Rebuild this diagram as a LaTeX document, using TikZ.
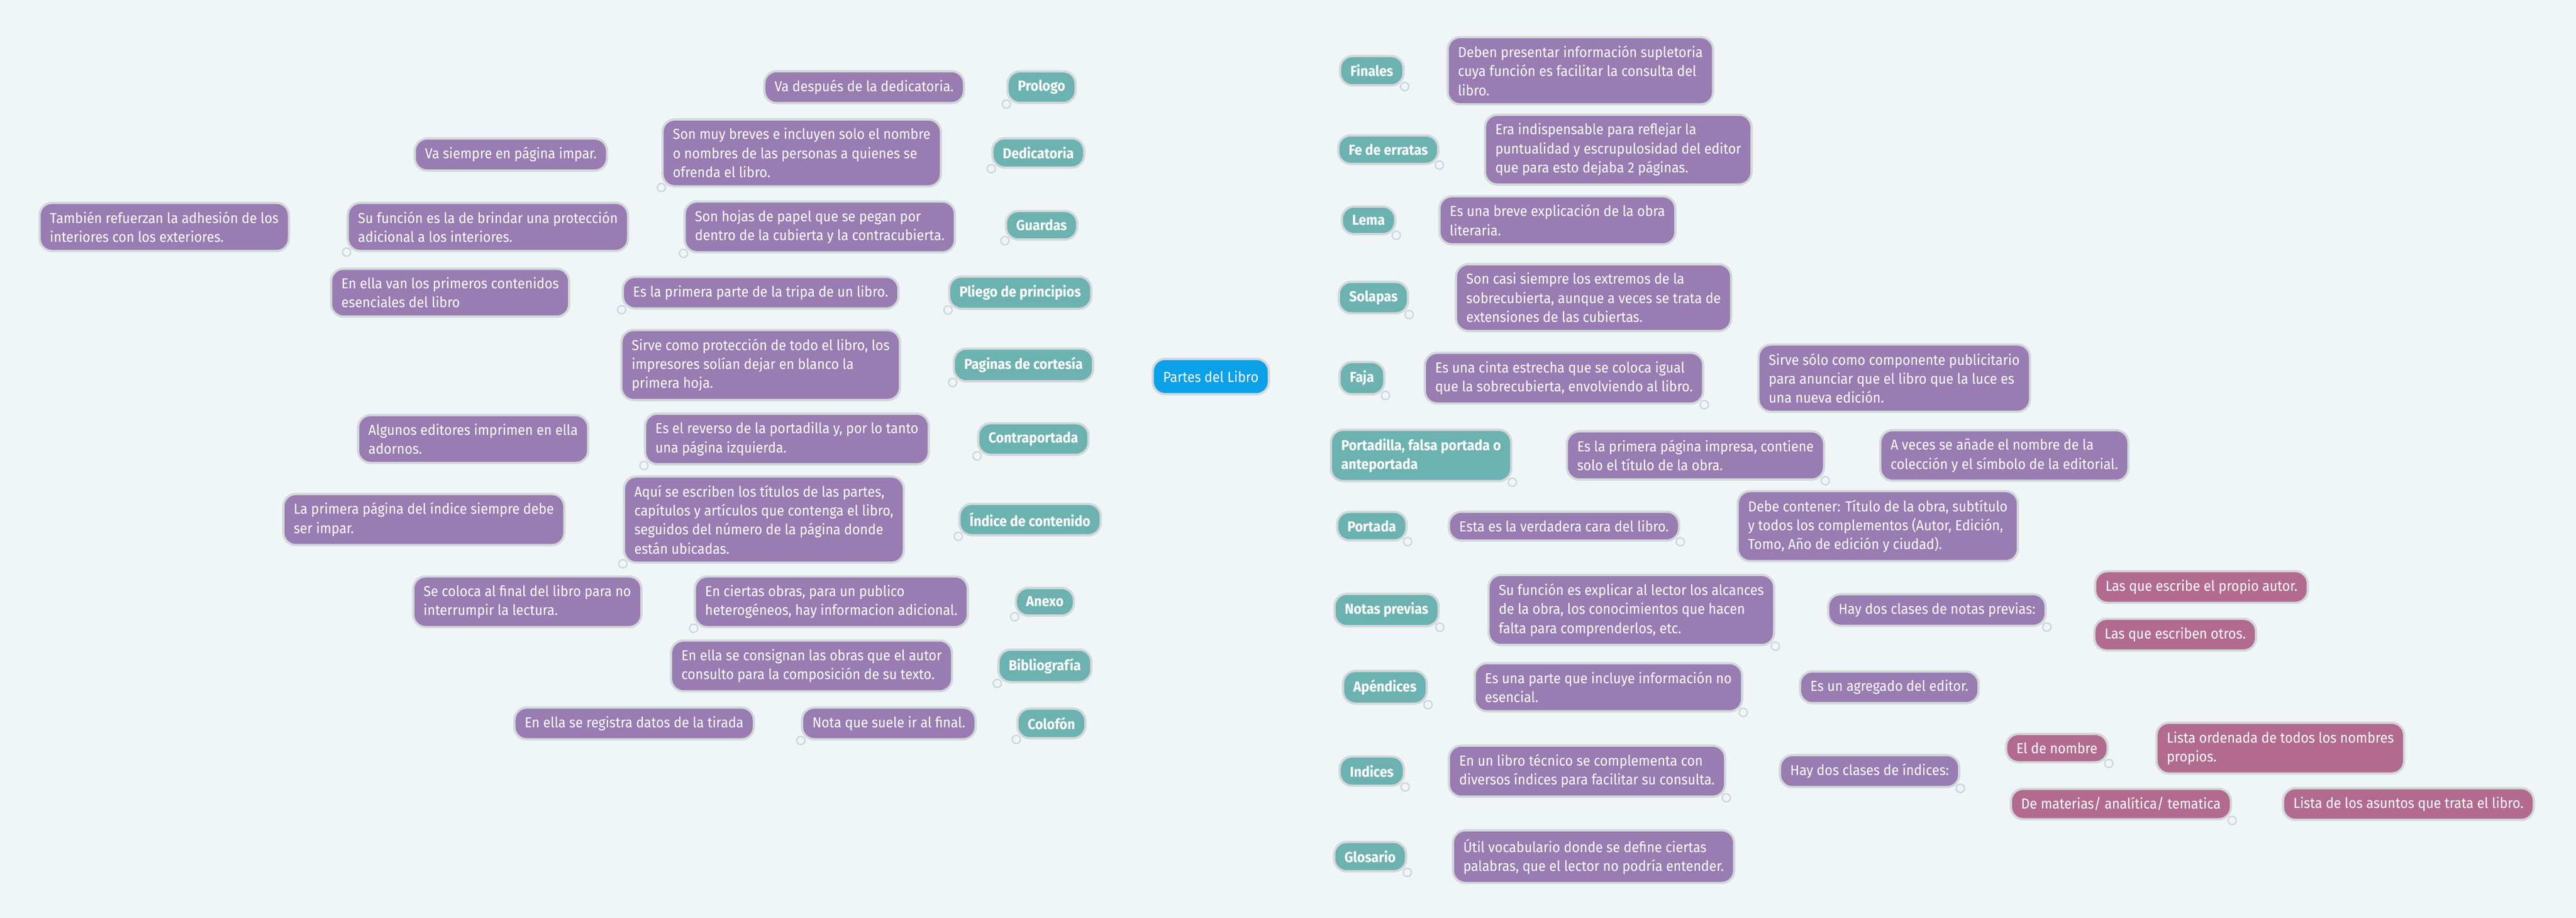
\documentclass[tikz,border=0pt]{standalone}
\usepackage{fontspec}
\setmainfont{Fira Sans}
\newfontfamily\fs[FakeStretch=0.93]{Fira Sans}
\pgfdeclarelayer{bg}\pgfsetlayers{bg,main}
\definecolor{bgc}{HTML}{F0F5F8}
\definecolor{tl}{HTML}{6CB2B0}
\definecolor{pu}{HTML}{987CB2}
\definecolor{pk}{HTML}{B26B8E}
\definecolor{rt}{HTML}{0BA0E8}
\definecolor{ln}{HTML}{CDD3D7}
\definecolor{bd}{HTML}{D3D8DB}
\tikzset{
 base/.style={rounded corners=6pt, draw=bd, line width=1.1pt, text=white, font=\fs\fontsize{7pt}{9.2pt}\selectfont, align=left, inner xsep=5pt, inner ysep=4.2pt},
 mn/.style={base, fill=tl, font=\fs\bfseries\fontsize{7pt}{9.2pt}\selectfont},
 pr/.style={base, fill=pu},
 pkn/.style={base, fill=pk},
 cn/.style={draw=ln, line width=0.7pt},
 dot/.style={circle, draw=ln, fill=bgc, line width=0.6pt, inner sep=0pt, minimum size=4pt}
}
\newcommand\lcx[2]{\begin{pgfonlayer}{bg}\draw[cn] (#1.south west) to[out=180,in=0] (#2.south east); \draw[cn] (#2.south west)--(#2.south east);\end{pgfonlayer}\node[dot] at (#1.south west){};}
\newcommand\rcx[2]{\begin{pgfonlayer}{bg}\draw[cn] (#1.south east) to[out=0,in=180] (#2.south west); \draw[cn] (#2.south west)--(#2.south east);\end{pgfonlayer}\node[dot] at (#1.south east){};}
\newcommand\lmx[1]{\coordinate (#1e) at ([xshift=0.3cm]#1.south east);\begin{pgfonlayer}{bg}\draw[cn] (#1.south west)--(#1e); \draw[cn] (root.center) .. controls ([xshift=-0.5cm]root.center) and ([xshift=0.9cm]#1e) .. (#1e);\end{pgfonlayer}}
\newcommand\rmx[1]{\coordinate (#1e) at ([xshift=-0.3cm]#1.south west);\begin{pgfonlayer}{bg}\draw[cn] (#1.south east)--(#1e); \draw[cn] (root.center) .. controls ([xshift=0.5cm]root.center) and ([xshift=-0.9cm]#1e) .. (#1e);\end{pgfonlayer}}
\begin{document}
\begin{tikzpicture}[x=0.02794cm,y=-0.02794cm]
\fill[bgc] (0,0) rectangle (1568,558.3);
\useasboundingbox (0,0) rectangle (1568,558.3);
\node[base, fill=rt, font=\fs\fontsize{7pt}{9pt}\selectfont, minimum height=0.6cm] (root) at (737,229) {Partes del Libro};
% left main
\node[mn] (L1) at (634,53) {Prologo};
\node[mn] (L2) at (632,93) {Dedicatoria};
\node[mn] (L3) at (634,137) {Guardas};
\node[mn] (L4) at (621,178) {Pliego de principios};
\node[mn] (L5) at (623,222) {Paginas de cortesía};
\node[mn] (L6) at (629,267) {Contraportada};
\node[mn] (L7) at (627,316) {Índice de contenido};
\node[mn] (L8) at (636,366) {Anexo};
\node[mn] (L9) at (636,405) {Bibliografía};
\node[mn] (L10) at (640,440) {Colofón};
\foreach \n in {L1,L2,L3,L4,L5,L6,L7,L8,L9,L10}{\lmx{\n}}
\node[pr] (a1) at (526,53) {Va después de la dedicatoria.};
\node[pr] (a2) at (488,93) {Son muy breves e incluyen solo el nombre\\o nombres de las personas a quienes se\\ofrenda el libro.};
\node[pr] (a2b) at (311,94) {Va siempre en página impar.};
\node[pr] (a3) at (499,138) {Son hojas de papel que se pegan por\\dentro de la cubierta y la contracubierta.};
\node[pr] (a3b) at (297,138) {Su función es la de brindar una protección\\adicional a los interiores.};
\node[pr] (a3c) at (100,138) {También refuerzan la adhesión de los\\interiores con los exteriores.};
\node[pr] (a4) at (463,178) {Es la primera parte de la tripa de un libro.};
\node[pr] (a4b) at (274,178) {En ella van los primeros contenidos\\esenciales del libro};
\node[pr] (a5) at (463,222) {Sirve como protección de todo el libro, los\\impresores solían dejar en blanco la\\primera hoja.};
\node[pr] (a6) at (479,267) {Es el reverso de la portadilla y, por lo tanto\\una página izquierda.};
\node[pr] (a6b) at (288,267) {Algunos editores imprimen en ella\\adornos.};
\node[pr] (a7) at (465,316) {Aquí se escriben los títulos de las partes,\\capítulos y artículos que contenga el libro,\\seguidos del número de la página donde\\están ubicadas.};
\node[pr] (a7b) at (258,316) {La primera página del índice siempre debe\\ser impar.};
\node[pr] (a8) at (506,366) {En ciertas obras, para un publico\\heterogéneos, hay informacion adicional.};
\node[pr] (a8b) at (321,366) {Se coloca al final del libro para no\\interrumpir la lectura.};
\node[pr] (a9) at (494,405) {En ella se consignan las obras que el autor\\consulto para la composición de su texto.};
\node[pr] (a10) at (541,440) {Nota que suele ir al final.};
\node[pr] (a10b) at (386,440) {En ella se registra datos de la tirada};
\lcx{L1}{a1}\lcx{L2}{a2}\lcx{a2}{a2b}\lcx{L3}{a3}\lcx{a3}{a3b}\lcx{a3b}{a3c}
\lcx{L4}{a4}\lcx{a4}{a4b}\lcx{L5}{a5}\lcx{L6}{a6}\lcx{a6}{a6b}\lcx{L7}{a7}\lcx{a7}{a7b}
\lcx{L8}{a8}\lcx{a8}{a8b}\lcx{L9}{a9}\lcx{L10}{a10}\lcx{a10}{a10b}
% right main
\node[mn] (R1) at (835,43) {Finales};
\node[mn] (R2) at (845,91) {Fe de erratas};
\node[mn] (R3) at (833,134) {Lema};
\node[mn] (R4) at (836,181) {Solapas};
\node[mn] (R5) at (829,230) {Faja};
\node[mn] (R6) at (865,277) {Portadilla, falsa portada o\\anteportada};
\node[mn] (R7) at (835,320) {Portada};
\node[mn] (R8) at (844,371) {Notas previas};
\node[mn] (R9) at (843,418) {Apéndices};
\node[mn] (R10) at (835,469) {Indices};
\node[mn] (R11) at (834,521) {Glosario};
\foreach \n in {R1,R2,R3,R4,R5,R6,R7,R8,R9,R10,R11}{\rmx{\n}}
\node[pr] (b1) at (962,43) {Deben presentar información supletoria\\cuya función es facilitar la consulta del\\libro.};
\node[pr] (b2) at (985,91) {Era indispensable para reflejar la\\puntualidad y escrupulosidad del editor\\que para esto dejaba 2 páginas.};
\node[pr] (b3) at (948,134) {Es una breve explicación de la obra\\literaria.};
\node[pr] (b4) at (970,181) {Son casi siempre los extremos de la\\sobrecubierta, aunque a veces se trata de\\extensiones de las cubiertas.};
\node[pr] (b5) at (952,230) {Es una cinta estrecha que se coloca igual\\que la sobrecubierta, envolviendo al libro.};
\node[pr] (b5b) at (1153,230) {Sirve sólo como componente publicitario\\para anunciar que el libro que la luce es\\una nueva edición.};
\node[pr] (b6) at (1032,277) {Es la primera página impresa, contiene\\solo el título de la obra.};
\node[pr] (b6b) at (1220,277) {A veces se añade el nombre de la\\colección y el símbolo de la editorial.};
\node[pr] (b7) at (952,320) {Esta es la verdadera cara del libro.};
\node[pr] (b7b) at (1143,320) {Debe contener: Título de la obra, subtítulo\\y todos los complementos (Autor, Edición,\\Tomo, Año de edición y ciudad).};
\node[pr] (b8) at (993,371) {Su función es explicar al lector los alcances\\de la obra, los conocimientos que hacen\\falta para comprenderlos, etc.};
\node[pr] (b8b) at (1179,371) {Hay dos clases de notas previas:};
\node[pkn] (b8c) at (1340,357) {Las que escribe el propio autor.};
\node[pkn] (b8d) at (1324,386) {Las que escriben otros.};
\node[pr] (b9) at (979,418) {Es una parte que incluye información no\\esencial.};
\node[pr] (b9b) at (1150,418) {Es un agregado del editor.};
\node[pr] (b10) at (966,469) {En un libro técnico se complementa con\\diversos índices para facilitar su consulta.};
\node[pr] (b10b) at (1138,469) {Hay dos clases de índices:};
\node[pkn] (b10c) at (1252,455) {El de nombre};
\node[pkn] (b10d) at (1388,455) {Lista ordenada de todos los nombres\\propios.};
\node[pkn] (b10e) at (1291,489) {De materias/ analítica/ tematica};
\node[pkn] (b10f) at (1466,489) {Lista de los asuntos que trata el libro.};
\node[pr] (b11) at (970,521) {Útil vocabulario donde se define ciertas\\palabras, que el lector no podría entender.};
\rcx{R1}{b1}\rcx{R2}{b2}\rcx{R3}{b3}\rcx{R4}{b4}\rcx{R5}{b5}\rcx{b5}{b5b}\rcx{R6}{b6}\rcx{b6}{b6b}
\rcx{R7}{b7}\rcx{b7}{b7b}\rcx{R8}{b8}\rcx{b8}{b8b}\rcx{b8b}{b8c}\rcx{b8b}{b8d}
\rcx{R9}{b9}\rcx{b9}{b9b}\rcx{R10}{b10}\rcx{b10}{b10b}\rcx{b10b}{b10c}\rcx{b10c}{b10d}\rcx{b10b}{b10e}\rcx{b10e}{b10f}\rcx{R11}{b11}
\end{tikzpicture}
\end{document}
